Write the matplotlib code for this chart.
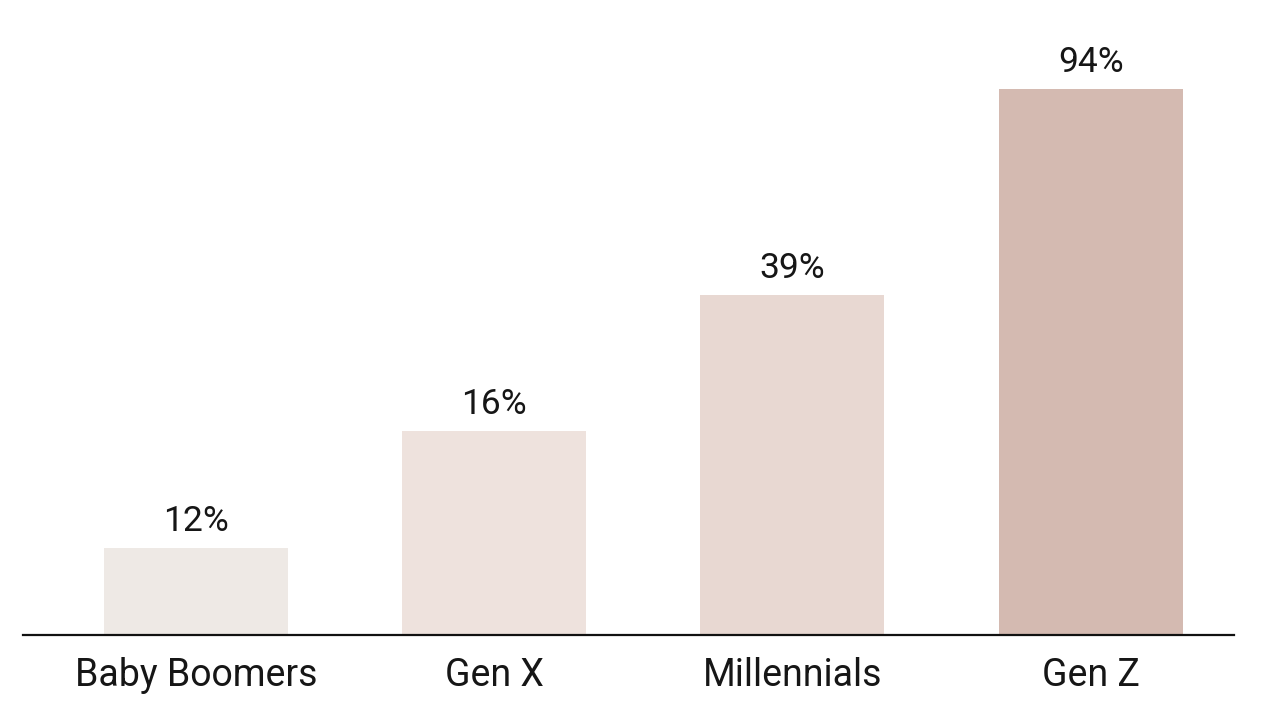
import matplotlib
matplotlib.use("Agg")
import matplotlib.pyplot as plt

# Data
categories = ["Baby Boomers", "Gen X", "Millennials", "Gen Z"]
value_labels = ["12%", "16%", "39%", "94%"]
# Drawn bar heights (as they appear in the picture, scaled so Gen Z = 94)
bar_heights = [15.0, 35.1, 58.5, 94.0]
bar_colors = ["#EEE9E5", "#EEE2DD", "#E8D8D2", "#D4BAB1"]

plt.rcParams["font.family"] = ["Roboto", "DejaVu Sans"]

fig = plt.figure(figsize=(12.8, 7.2), dpi=100)
ax = fig.add_axes([23 / 1280, 85 / 720, 1211 / 1280, 605 / 720])

x = list(range(len(categories)))
bars = ax.bar(x, bar_heights, width=0.617, color=bar_colors, edgecolor="none", zorder=2)

ax.set_xlim(-0.580, 3.481)
ax.set_ylim(0, 104.15)

for xi, h, lab in zip(x, bar_heights, value_labels):
    ax.annotate(lab, xy=(xi, h), xytext=(0, 12.2), textcoords="offset points",
                ha="center", va="baseline", fontsize=25.5, color="#161616")

for xi, cat in zip(x, categories):
    ax.annotate(cat, xy=(xi, 0), xycoords=("data", "axes fraction"),
                xytext=(0, -36.7), textcoords="offset points",
                ha="center", va="baseline", fontsize=27, color="#161616")

for s in ["top", "right", "left"]:
    ax.spines[s].set_visible(False)
ax.spines["bottom"].set_linewidth(1.6)
ax.spines["bottom"].set_color("#111111")
ax.spines["bottom"].set_zorder(3)
ax.set_xticks([])
ax.set_yticks([])

fig.savefig("out.png", dpi=100, facecolor="white")
